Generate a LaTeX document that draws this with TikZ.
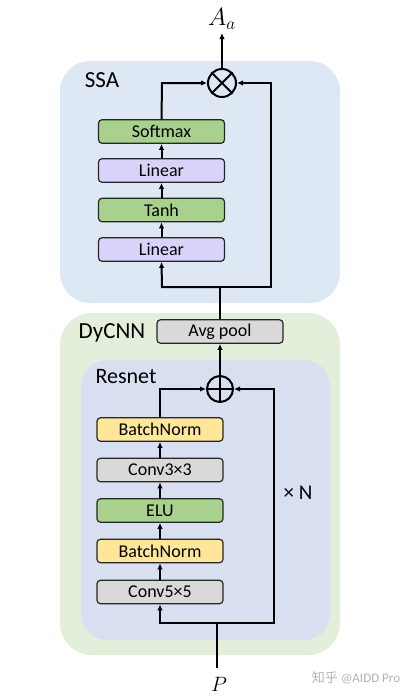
\documentclass[tikz,border=0pt]{standalone}
\usepackage{fontspec}
\setmainfont{Carlito}
\newfontfamily\cjkfont{Noto Sans CJK SC}
\usetikzlibrary{arrows.meta}
\definecolor{ssabg}{HTML}{DEE8F4}
\definecolor{dybg}{HTML}{E3EFDA}
\definecolor{resbg}{HTML}{D7DFF1}
\definecolor{gfill}{HTML}{A9D18E}
\definecolor{lfill}{HTML}{D9D3FA}
\definecolor{yfill}{HTML}{FFE699}
\definecolor{cfill}{HTML}{D9D9D9}
\tikzset{
  blk/.style={draw=black!85, line width=1.2pt, rounded corners=3.5pt, minimum width=126pt, minimum height=23.5pt, inner sep=0pt, font=\fontsize{18}{20}\selectfont},
  conn/.style={line width=2pt, draw=black},
  arr/.style={conn, -{Latex[length=6pt,width=5.5pt]}},
  grp/.style={font=\fontsize{23}{26}\selectfont, anchor=center},
  opnode/.style={circle, draw=black, line width=2pt, minimum size=28pt, inner sep=0pt},
}
\begin{document}
\begin{tikzpicture}[x=1pt,y=-1pt]
\useasboundingbox (0,0) rectangle (417,697);
% backgrounds
\fill[ssabg, rounded corners=30pt] (60,61) rectangle (340,303);
\fill[dybg, rounded corners=32pt] (60,313) rectangle (340,655);
\fill[resbg, rounded corners=26pt] (81,360) rectangle (330,640);
% group labels
\node[grp] (lssa) at (102,80) {SSA};
\node[grp] (ldy) at (112,333) {DyCNN};
\node[grp, font=\fontsize{22}{24}\selectfont] (lres) at (126,377) {Resnet};
\node[font=\fontsize{21}{24}\selectfont] (xn) at (298,493) {× N};
% SSA blocks
\node[blk, fill=gfill] (soft) at (161.5,131.5) {Softmax};
\node[blk, fill=lfill] (lin1) at (161.5,170.5) {Linear};
\node[blk, fill=gfill] (tanh) at (161.5,210) {Tanh};
\node[blk, fill=lfill] (lin2) at (161.5,249.5) {Linear};
\node[opnode] (mul) at (222,83) {};
\draw[line width=2pt] (mul.north west) -- (mul.south east) (mul.north east) -- (mul.south west);
\node[font=\fontsize{23}{24}\selectfont] (aa) at (222,19) {$A_a$};
% DyCNN
\node[blk, fill=cfill] (avg) at (220,331.5) {Avg pool};
\node[opnode, minimum size=26pt] (add) at (220,389) {};
\draw[line width=2pt] (add.north) -- (add.south) (add.west) -- (add.east);
\node[blk, fill=yfill] (bn1) at (160,429.5) {BatchNorm};
\node[blk, fill=cfill] (c3) at (160,470) {Conv3×3};
\node[blk, fill=gfill] (elu) at (160,510.5) {ELU};
\node[blk, fill=yfill] (bn2) at (160,551) {BatchNorm};
\node[blk, fill=cfill] (c5) at (160,592) {Conv5×5};
\node[font=\fontsize{22}{24}\selectfont] (pp) at (219,684) {$P$};
% coordinates
\coordinate (pin) at (217,668);
\coordinate (rb) at (217,623);
\coordinate (rbl) at (160,623);
\coordinate (rbr) at (274,623);
\coordinate (rtl) at (160,389);
\coordinate (rtr) at (274,389);
\coordinate (sb) at (220,287);
\coordinate (sbl) at (162,287);
\coordinate (sbr) at (271,287);
\coordinate (stl) at (162,83);
\coordinate (str) at (271,83);
% Resnet connectors
\draw[conn] (pin) -- (rb);
\draw[arr] (rb) -- (rbl) -- (c5.south);
\draw[arr] (c5.north) -- (bn2.south);
\draw[arr] (bn2.north) -- (elu.south);
\draw[arr] (elu.north) -- (c3.south);
\draw[arr] (c3.north) -- (bn1.south);
\draw[arr] (bn1.north) -- (rtl) -- (add.west);
\draw[arr] (rb) -- (rbr) -- (rtr) -- (add.east);
\draw[arr] (add.north) -- (avg.south);
% SSA connectors
\draw[conn] (avg.north) -- (sb);
\draw[arr] (sb) -- (sbl) -- (lin2.south);
\draw[arr] (lin2.north) -- (tanh.south);
\draw[arr] (tanh.north) -- (lin1.south);
\draw[arr] (lin1.north) -- (soft.south);
\draw[arr] (soft.north) -- (stl) -- (mul.west);
\draw[arr] (sb) -- (sbr) -- (str) -- (mul.east);
\draw[arr] (mul.north) -- (222,33);
% watermark
\node[text=black!30, font=\fontsize{13}{15}\selectfont] (wm) at (356,678) {{\cjkfont 知乎} @AIDD Pro};
\end{tikzpicture}
\end{document}
